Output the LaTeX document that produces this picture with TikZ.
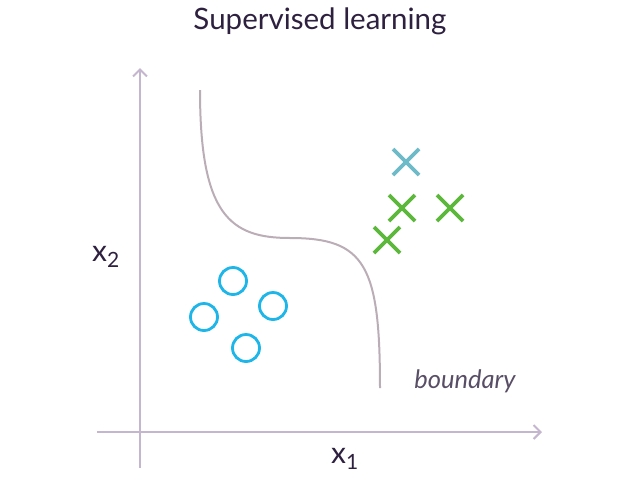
\documentclass[tikz,border=0pt]{standalone}
\usepackage{fontspec}
\setmainfont{Lato}
\usetikzlibrary{arrows.meta}
\definecolor{axc}{HTML}{C4B6CE}
\definecolor{curvec}{HTML}{BBADB5}
\definecolor{titlec}{HTML}{2E2140}
\definecolor{cyanc}{HTML}{1EB5E8}
\definecolor{tealc}{HTML}{6DBAC9}
\definecolor{greenc}{HTML}{5BB83A}
\tikzset{
  axis/.style={draw=axc, line width=2pt, -{Straight Barb[length=7pt,width=14pt]}},
  circ/.style={draw=cyanc, line width=2.8pt, circle, minimum size=27pt, inner sep=0pt},
  lbl/.style={text=titlec, font=\fontsize{30}{34}\selectfont},
}
\newcommand{\xmark}[3]{\draw[#3, line width=3.8pt] (#1-13,#2-13) -- (#1+13,#2+13) (#1-13,#2+13) -- (#1+13,#2-13);}
\begin{document}
\begin{tikzpicture}[x=1pt,y=-1pt]
\useasboundingbox (0,0) rectangle (640,480);
\node[text=titlec, font=\fontsize{29.5}{34}\selectfont] (title) at (320,21) {Supervised learning};
\coordinate (ys) at (140,468);
\coordinate (ye) at (140,68);
\coordinate (xs) at (97,432);
\coordinate (xe) at (542,432);
\draw[axis] (ys) -- (ye);
\draw[axis] (xs) -- (xe);
\node[lbl] (x2) at (106,257) {x\textsubscript{2}};
\node[lbl] (x1) at (345,459) {x\textsubscript{1}};
\draw[curvec, line width=2pt] (200,90) .. controls (200,215) and (230,238) .. (290,238) .. controls (365,238) and (380,265) .. (380,388);
\node[text=titlec!80, font=\itshape\fontsize{25.5}{30}\selectfont] (bd) at (465,381) {boundary};
\node[circ] (c1) at (233,281) {};
\node[circ] (c2) at (273,306) {};
\node[circ] (c3) at (204,317) {};
\node[circ] (c4) at (246,348) {};
\xmark{406}{162}{tealc}
\xmark{402}{208}{greenc}
\xmark{450}{208}{greenc}
\xmark{387}{240}{greenc}
\end{tikzpicture}
\end{document}
